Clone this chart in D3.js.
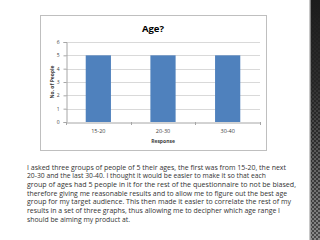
<!DOCTYPE html>
<html>
<head>
<meta charset="utf-8">
<script src="https://cdn.jsdelivr.net/npm/d3@7"></script>
<style>
  html, body { margin: 0; padding: 0; background: #fff; }
  svg { display: block; }
</style>
</head>
<body>
<div id="chart"></div>
<script>
// data
const categories = ['15-20', '20-30', '30-40'];
const counts = [5, 5, 5];
const yTicks = [0, 1, 2, 3, 4, 5, 6];
const chartTitle = 'Age?';
const xTitle = 'Response';
const yTitle = 'No. of People';
const paragraph = [
    'I asked three groups of people of 5 their ages, the first was from 15-20, the next',
    '20-30 and the last 30-40. I thought it would be easier to make it so that each',
    'group of ages had 5 people in it for the rest of the questionnaire to not be biased,',
    'therefore giving me reasonable results and to allow me to figure out the best age',
    'group for my target audience. This then made it easier to correlate the rest of my',
    'results in a set of three graphs, thus allowing me to decipher which age range I',
    'should be aiming my product at.'
];
const lineWidths = [259, 239, 269, 260, 264, 253, 103];

const W = 320, H = 240;
const svg = d3.select('#chart').append('svg')
    .attr('width', W).attr('height', H);

const defs = svg.append('defs');
const grad = defs.append('linearGradient').attr('id', 'stripGrad')
    .attr('x1', 0).attr('y1', 0).attr('x2', 0).attr('y2', 1);
grad.append('stop').attr('offset', '0%').attr('stop-color', '#1c1c1c');
grad.append('stop').attr('offset', '55%').attr('stop-color', '#2a2a2a');
grad.append('stop').attr('offset', '100%').attr('stop-color', '#4a4a4a');
const pat = defs.append('pattern').attr('id', 'checker')
    .attr('width', 4).attr('height', 4).attr('patternUnits', 'userSpaceOnUse');
pat.append('rect').attr('width', 2).attr('height', 2).attr('fill', '#9a9a9a');
pat.append('rect').attr('x', 2).attr('y', 2).attr('width', 2).attr('height', 2).attr('fill', '#9a9a9a');
const fade = defs.append('linearGradient').attr('id', 'fadeGrad')
    .attr('x1', 0).attr('y1', 0).attr('x2', 0).attr('y2', 1);
fade.append('stop').attr('offset', '0%').attr('stop-color', '#fff').attr('stop-opacity', 0);
fade.append('stop').attr('offset', '35%').attr('stop-color', '#fff').attr('stop-opacity', 0.1);
fade.append('stop').attr('offset', '100%').attr('stop-color', '#fff').attr('stop-opacity', 0.8);
const mask = defs.append('mask').attr('id', 'fadeMask');
mask.append('rect').attr('x', 310).attr('width', 10).attr('height', H).attr('fill', 'url(#fadeGrad)');

// decorative right strip
svg.append('rect').attr('x', 309).attr('y', 0).attr('width', 1.5).attr('height', H).attr('fill', '#c8c8c8');
svg.append('rect').attr('x', 310.5).attr('y', 0).attr('width', 10).attr('height', H).attr('fill', 'url(#stripGrad)');
svg.append('rect').attr('x', 310.5).attr('y', 0).attr('width', 10).attr('height', H)
    .attr('fill', 'url(#checker)').attr('mask', 'url(#fadeMask)');

// chart frame
svg.append('rect')
    .attr('x', 40.5).attr('y', 15.5).attr('width', 226).attr('height', 135)
    .attr('fill', '#fff').attr('stroke', '#bfbfbf').attr('stroke-width', 1);

const x = d3.scaleBand().domain(categories).range([66, 260])
    .paddingInner(0.61).paddingOuter(0.305);
const y = d3.scaleLinear().domain([0, 6]).range([122, 42]);

// gridlines
svg.append('g').selectAll('line').data(yTicks.slice(1)).join('line')
    .attr('x1', 66).attr('x2', 260)
    .attr('y1', d => Math.round(y(d)) + 0.5).attr('y2', d => Math.round(y(d)) + 0.5)
    .attr('stroke', '#d9d9d9').attr('stroke-width', 1);

// bars
svg.append('g').selectAll('rect').data(categories).join('rect')
    .attr('x', d => x(d))
    .attr('y', (d, i) => y(counts[i]))
    .attr('width', x.bandwidth())
    .attr('height', (d, i) => y(0) - y(counts[i]))
    .attr('fill', '#4f81bd');

// y axis
const yAxis = d3.axisLeft(y).tickValues(yTicks).tickFormat(d3.format('d')).tickSize(3).tickPadding(4);
const gy = svg.append('g').attr('transform', 'translate(66.5,0)').call(yAxis);
gy.select('.domain').attr('stroke', '#a6a6a6');
gy.selectAll('.tick line').attr('stroke', '#a6a6a6');
gy.selectAll('text').attr('font-family', 'Open Sans, sans-serif').attr('font-size', 5).attr('fill', '#404040');

// x axis with ticks at category boundaries
const step = x.step();
const xAxis = d3.axisBottom(x).tickSize(0).tickPadding(7);
const gx = svg.append('g').attr('transform', `translate(0,${y(0) + 0.5})`).call(xAxis);
gx.select('.domain').attr('stroke', '#a6a6a6');
gx.selectAll('text').attr('font-family', 'Open Sans, sans-serif').attr('font-size', 5.5).attr('fill', '#404040');
svg.append('g').selectAll('line').data(d3.range(categories.length + 1)).join('line')
    .attr('x1', i => Math.round(66 + i * step) + 0.5).attr('x2', i => Math.round(66 + i * step) + 0.5)
    .attr('y1', y(0)).attr('y2', y(0) + 3)
    .attr('stroke', '#a6a6a6');

// titles
svg.append('text').attr('x', 153).attr('y', 31.5).attr('text-anchor', 'middle')
    .attr('font-family', 'Open Sans, sans-serif').attr('font-weight', 'bold')
    .attr('font-size', 9.5).attr('fill', '#000').text(chartTitle);
svg.append('text').attr('x', 163).attr('y', 143).attr('text-anchor', 'middle')
    .attr('font-family', 'Open Sans, sans-serif').attr('font-weight', 'bold')
    .attr('font-size', 5).attr('fill', '#404040').text(xTitle);
svg.append('text').attr('transform', 'translate(54,82) rotate(-90)').attr('text-anchor', 'middle')
    .attr('font-family', 'Open Sans, sans-serif').attr('font-weight', 'bold')
    .attr('font-size', 5).attr('fill', '#404040').text(yTitle);

// paragraph
svg.append('g').selectAll('text').data(paragraph).join('text')
    .attr('x', 27).attr('y', (d, i) => 169.5 + i * 8.67)
    .attr('font-family', 'Open Sans, sans-serif').attr('font-size', 7.4)
    .attr('fill', '#333333')
    .attr('textLength', (d, i) => lineWidths[i])
    .attr('lengthAdjust', 'spacingAndGlyphs')
    .text(d => d);
</script>
</body>
</html>
